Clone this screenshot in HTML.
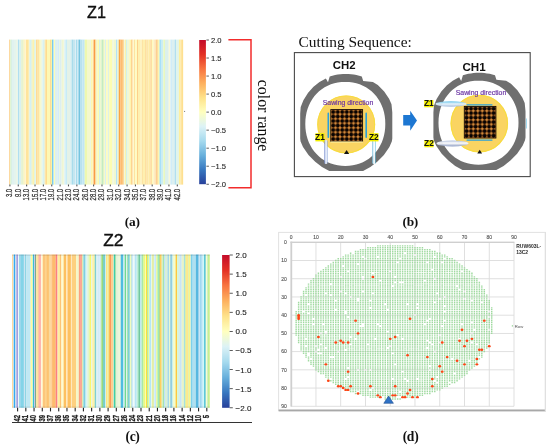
<!DOCTYPE html>
<html><head><meta charset="utf-8"><title>figure</title>
<style>html,body{margin:0;padding:0;background:#fff;}svg{display:block;filter:blur(0.3px);}</style>
</head><body>
<svg width="550" height="446" viewBox="0 0 550 446">
<rect width="550" height="446" fill="#fff"/>
<defs>
<linearGradient id="cb" x1="0" y1="0" x2="0" y2="1"><stop offset="0" stop-color="#c40c2a"/><stop offset="0.1" stop-color="#e33024"/><stop offset="0.2" stop-color="#f87440"/><stop offset="0.3" stop-color="#fdb05e"/><stop offset="0.4" stop-color="#fee28a"/><stop offset="0.5" stop-color="#ffffbf"/><stop offset="0.6" stop-color="#dcf2f6"/><stop offset="0.7" stop-color="#a6daee"/><stop offset="0.8" stop-color="#68b0dc"/><stop offset="0.9" stop-color="#3878c0"/><stop offset="1" stop-color="#27409a"/></linearGradient>
<linearGradient id="bladeV" x1="0" y1="0" x2="1" y2="0"><stop offset="0" stop-color="#6a80c8"/><stop offset="0.3" stop-color="#c8d4f0"/><stop offset="0.6" stop-color="#f4f8ff"/><stop offset="1" stop-color="#8aa4d8"/></linearGradient>
<linearGradient id="bladeV2" x1="0" y1="0" x2="1" y2="0"><stop offset="0" stop-color="#70b8d8"/><stop offset="0.4" stop-color="#e0f4fc"/><stop offset="0.7" stop-color="#f8fcff"/><stop offset="1" stop-color="#50b8d8"/></linearGradient>
<linearGradient id="bladeH" x1="0" y1="0" x2="0" y2="1"><stop offset="0" stop-color="#a8b8d8"/><stop offset="0.45" stop-color="#ffffff"/><stop offset="1" stop-color="#8898c0"/></linearGradient>
<linearGradient id="bladeH1" x1="0" y1="0" x2="0" y2="1"><stop offset="0" stop-color="#60c0e8"/><stop offset="0.5" stop-color="#e8f4fc"/><stop offset="1" stop-color="#a0b8d8"/></linearGradient>
<pattern id="die2" x="331" y="109.8" width="4.5" height="4.5" patternUnits="userSpaceOnUse"><rect width="4.5" height="4.5" fill="#a4521a"/><circle cx="2.25" cy="2.25" r="2.15" fill="none" stroke="#e89838" stroke-width="0.4"/><circle cx="2.25" cy="2.25" r="1.95" fill="#070302"/><circle cx="0" cy="0" r="0.75" fill="#f8c060"/><circle cx="4.5" cy="0" r="0.75" fill="#f8c060"/><circle cx="0" cy="4.5" r="0.75" fill="#f8c060"/><circle cx="4.5" cy="4.5" r="0.75" fill="#f8c060"/></pattern>
<pattern id="die1" x="464.3" y="106.4" width="4.5" height="4.5" patternUnits="userSpaceOnUse"><rect width="4.5" height="4.5" fill="#a4521a"/><circle cx="2.25" cy="2.25" r="2.15" fill="none" stroke="#e89838" stroke-width="0.4"/><circle cx="2.25" cy="2.25" r="1.95" fill="#070302"/><circle cx="0" cy="0" r="0.75" fill="#f8c060"/><circle cx="4.5" cy="0" r="0.75" fill="#f8c060"/><circle cx="0" cy="4.5" r="0.75" fill="#f8c060"/><circle cx="4.5" cy="4.5" r="0.75" fill="#f8c060"/></pattern>
</defs>
<text x="96.5" y="17.6" font-family='"Liberation Sans", sans-serif' font-size="16.2" text-anchor="middle" fill="#111" stroke="#111" stroke-width="0.35">Z1</text>
<rect x="9" y="39.6" width="1.05" height="145" fill="#fcd9a0"/>
<rect x="10" y="39.6" width="1.05" height="145" fill="#e2f5d4"/>
<rect x="11" y="39.6" width="1.05" height="145" fill="#d8f0e4"/>
<rect x="12" y="39.6" width="2.05" height="145" fill="#e0f2f0"/>
<rect x="14" y="39.6" width="2.25" height="145" fill="#e4f4ee"/>
<rect x="16.2" y="39.6" width="1.35" height="145" fill="#e8f6e0"/>
<rect x="17.5" y="39.6" width="0.55" height="145" fill="#ddeef0"/>
<rect x="18" y="39.6" width="0.95" height="145" fill="#a8dcf0"/>
<rect x="18.9" y="39.6" width="2.25" height="145" fill="#d8f0f0"/>
<rect x="21.1" y="39.6" width="2.45" height="145" fill="#e6f2d0"/>
<rect x="23.5" y="39.6" width="0.95" height="145" fill="#f8f4b0"/>
<rect x="24.4" y="39.6" width="1.15" height="145" fill="#fff0b8"/>
<rect x="25.5" y="39.6" width="0.55" height="145" fill="#fef4c8"/>
<rect x="26" y="39.6" width="2.75" height="145" fill="#ffe49c"/>
<rect x="28.7" y="39.6" width="0.85" height="145" fill="#f4f0b0"/>
<rect x="29.5" y="39.6" width="1.55" height="145" fill="#d4f0f4"/>
<rect x="31" y="39.6" width="1.35" height="145" fill="#e6f2dc"/>
<rect x="32.3" y="39.6" width="0.85" height="145" fill="#f6f0b0"/>
<rect x="33.1" y="39.6" width="0.85" height="145" fill="#fff39c"/>
<rect x="33.9" y="39.6" width="1.45" height="145" fill="#e4f4e0"/>
<rect x="35.3" y="39.6" width="0.85" height="145" fill="#dff4e4"/>
<rect x="36.1" y="39.6" width="1.55" height="145" fill="#fed98a"/>
<rect x="37.6" y="39.6" width="1.45" height="145" fill="#fee4a4"/>
<rect x="39" y="39.6" width="1.45" height="145" fill="#fef4b8"/>
<rect x="40.4" y="39.6" width="1.15" height="145" fill="#f0f8c8"/>
<rect x="41.5" y="39.6" width="1.05" height="145" fill="#e8f6e0"/>
<rect x="42.5" y="39.6" width="2.25" height="145" fill="#d8f2f0"/>
<rect x="44.7" y="39.6" width="1.15" height="145" fill="#fee5a0"/>
<rect x="45.8" y="39.6" width="1.25" height="145" fill="#fedd90"/>
<rect x="47" y="39.6" width="3.05" height="145" fill="#fef8b4"/>
<rect x="50" y="39.6" width="1.35" height="145" fill="#fddc98"/>
<rect x="51.3" y="39.6" width="0.75" height="145" fill="#f4f28c"/>
<rect x="52" y="39.6" width="1.55" height="145" fill="#7ccce8"/>
<rect x="53.5" y="39.6" width="0.55" height="145" fill="#c8eef4"/>
<rect x="54" y="39.6" width="1.05" height="145" fill="#fcfcb8"/>
<rect x="55" y="39.6" width="2.85" height="145" fill="#dcf0f0"/>
<rect x="57.8" y="39.6" width="1.25" height="145" fill="#d4ecf8"/>
<rect x="59" y="39.6" width="1.05" height="145" fill="#e8f6e4"/>
<rect x="60" y="39.6" width="1.65" height="145" fill="#dceff0"/>
<rect x="61.6" y="39.6" width="1.75" height="145" fill="#eef6d4"/>
<rect x="63.3" y="39.6" width="1.15" height="145" fill="#f2f6d0"/>
<rect x="64.4" y="39.6" width="1.65" height="145" fill="#d6f0f8"/>
<rect x="66" y="39.6" width="1.05" height="145" fill="#c8ecf6"/>
<rect x="67" y="39.6" width="3.05" height="145" fill="#e4f2e8"/>
<rect x="70" y="39.6" width="1.65" height="145" fill="#dcf0f2"/>
<rect x="71.6" y="39.6" width="1.45" height="145" fill="#a8dcec"/>
<rect x="73" y="39.6" width="2.05" height="145" fill="#c4e6f0"/>
<rect x="75" y="39.6" width="0.75" height="145" fill="#f0f4fc"/>
<rect x="75.7" y="39.6" width="1.75" height="145" fill="#a8dcec"/>
<rect x="77.4" y="39.6" width="1.15" height="145" fill="#c8e8f4"/>
<rect x="78.5" y="39.6" width="1.95" height="145" fill="#74c4e0"/>
<rect x="80.4" y="39.6" width="2.15" height="145" fill="#b8e2ee"/>
<rect x="82.5" y="39.6" width="2.25" height="145" fill="#c0e6f4"/>
<rect x="84.7" y="39.6" width="2.35" height="145" fill="#eef8b0"/>
<rect x="87" y="39.6" width="3.05" height="145" fill="#f4f8cc"/>
<rect x="90" y="39.6" width="0.75" height="145" fill="#dcf0f0"/>
<rect x="90.7" y="39.6" width="1.75" height="145" fill="#fef8b0"/>
<rect x="92.4" y="39.6" width="1.25" height="145" fill="#fef0b0"/>
<rect x="93.6" y="39.6" width="1.75" height="145" fill="#f89c48"/>
<rect x="95.3" y="39.6" width="0.75" height="145" fill="#fcd890"/>
<rect x="96" y="39.6" width="1.55" height="145" fill="#f0f4c8"/>
<rect x="97.5" y="39.6" width="1.55" height="145" fill="#fcfcb0"/>
<rect x="99" y="39.6" width="1.05" height="145" fill="#d8f0e8"/>
<rect x="100" y="39.6" width="1.55" height="145" fill="#eef8d0"/>
<rect x="101.5" y="39.6" width="2.25" height="145" fill="#c4ecc0"/>
<rect x="103.7" y="39.6" width="1.15" height="145" fill="#fefcb8"/>
<rect x="104.8" y="39.6" width="1.25" height="145" fill="#d8f0f0"/>
<rect x="106" y="39.6" width="1.85" height="145" fill="#fefcc0"/>
<rect x="107.8" y="39.6" width="1.45" height="145" fill="#e0f2e4"/>
<rect x="109.2" y="39.6" width="2.85" height="145" fill="#fcfcb0"/>
<rect x="112" y="39.6" width="1.55" height="145" fill="#f0f8dc"/>
<rect x="113.5" y="39.6" width="2.55" height="145" fill="#f0f8d0"/>
<rect x="116" y="39.6" width="1.05" height="145" fill="#b4e0f6"/>
<rect x="117" y="39.6" width="1.75" height="145" fill="#e4f6dc"/>
<rect x="118.7" y="39.6" width="1.75" height="145" fill="#faa440"/>
<rect x="120.4" y="39.6" width="1.65" height="145" fill="#fdbc70"/>
<rect x="122" y="39.6" width="1.85" height="145" fill="#fdc880"/>
<rect x="123.8" y="39.6" width="1.25" height="145" fill="#f4f8d8"/>
<rect x="125" y="39.6" width="1.05" height="145" fill="#f8f4b0"/>
<rect x="126" y="39.6" width="1.05" height="145" fill="#d4f0e8"/>
<rect x="127" y="39.6" width="2.35" height="145" fill="#eef8d8"/>
<rect x="129.3" y="39.6" width="1.75" height="145" fill="#fef4b0"/>
<rect x="131" y="39.6" width="1.55" height="145" fill="#fdd490"/>
<rect x="132.5" y="39.6" width="0.55" height="145" fill="#fde8b0"/>
<rect x="133" y="39.6" width="1.05" height="145" fill="#fef8d0"/>
<rect x="134" y="39.6" width="1.35" height="145" fill="#fde4a0"/>
<rect x="135.3" y="39.6" width="1.75" height="145" fill="#fefcc0"/>
<rect x="137" y="39.6" width="1.05" height="145" fill="#fdd08c"/>
<rect x="138" y="39.6" width="2.75" height="145" fill="#fef0b0"/>
<rect x="140.7" y="39.6" width="1.15" height="145" fill="#fdf4c0"/>
<rect x="141.8" y="39.6" width="1.25" height="145" fill="#fde4a4"/>
<rect x="143" y="39.6" width="2.05" height="145" fill="#fef0b0"/>
<rect x="145" y="39.6" width="1.75" height="145" fill="#fde0a0"/>
<rect x="146.7" y="39.6" width="1.75" height="145" fill="#fde8a8"/>
<rect x="148.4" y="39.6" width="2.15" height="145" fill="#feeca8"/>
<rect x="150.5" y="39.6" width="1.35" height="145" fill="#fdd08c"/>
<rect x="151.8" y="39.6" width="1.75" height="145" fill="#fefcc0"/>
<rect x="153.5" y="39.6" width="2.15" height="145" fill="#feecc0"/>
<rect x="155.6" y="39.6" width="2.25" height="145" fill="#fdd090"/>
<rect x="157.8" y="39.6" width="1.25" height="145" fill="#fef4b0"/>
<rect x="159" y="39.6" width="0.75" height="145" fill="#d8f0c0"/>
<rect x="159.7" y="39.6" width="1.95" height="145" fill="#a8e0f8"/>
<rect x="161.6" y="39.6" width="1.75" height="145" fill="#cceef0"/>
<rect x="163.3" y="39.6" width="1.75" height="145" fill="#e8f8c0"/>
<rect x="165" y="39.6" width="3.75" height="145" fill="#dcf0ec"/>
<rect x="168.7" y="39.6" width="1.75" height="145" fill="#f8f8d8"/>
<rect x="170.4" y="39.6" width="1.65" height="145" fill="#d0ecf8"/>
<rect x="172" y="39.6" width="2.75" height="145" fill="#dcf0f0"/>
<rect x="174.7" y="39.6" width="1.25" height="145" fill="#a8dcf0"/>
<rect x="175.9" y="39.6" width="3.05" height="145" fill="#e0f4ec"/>
<rect x="178.9" y="39.6" width="1.65" height="145" fill="#fef0a0"/>
<rect x="180.5" y="39.6" width="1.55" height="145" fill="#fee4a0"/>
<rect x="182" y="39.6" width="1.15" height="145" fill="#fee090"/>
<rect x="9.35" y="184.5" width="1.1" height="1.9" fill="#555"/>
<text transform="translate(12.4,188.9) rotate(-90) scale(1,1.62)" font-family='"Liberation Sans", sans-serif' font-size="5.9" text-anchor="end" fill="#333" stroke="#333" stroke-width="0.18">3.0</text>
<rect x="17.72" y="184.5" width="1.1" height="1.9" fill="#555"/>
<text transform="translate(20.77,188.9) rotate(-90) scale(1,1.62)" font-family='"Liberation Sans", sans-serif' font-size="5.9" text-anchor="end" fill="#333" stroke="#333" stroke-width="0.18">9.0</text>
<rect x="26.09" y="184.5" width="1.1" height="1.9" fill="#555"/>
<text transform="translate(29.14,188.9) rotate(-90) scale(1,1.62)" font-family='"Liberation Sans", sans-serif' font-size="5.9" text-anchor="end" fill="#333" stroke="#333" stroke-width="0.18">13.0</text>
<rect x="34.46" y="184.5" width="1.1" height="1.9" fill="#555"/>
<text transform="translate(37.51,188.9) rotate(-90) scale(1,1.62)" font-family='"Liberation Sans", sans-serif' font-size="5.9" text-anchor="end" fill="#333" stroke="#333" stroke-width="0.18">15.0</text>
<rect x="42.83" y="184.5" width="1.1" height="1.9" fill="#555"/>
<text transform="translate(45.88,188.9) rotate(-90) scale(1,1.62)" font-family='"Liberation Sans", sans-serif' font-size="5.9" text-anchor="end" fill="#333" stroke="#333" stroke-width="0.18">17.0</text>
<rect x="51.2" y="184.5" width="1.1" height="1.9" fill="#555"/>
<text transform="translate(54.25,188.9) rotate(-90) scale(1,1.62)" font-family='"Liberation Sans", sans-serif' font-size="5.9" text-anchor="end" fill="#333" stroke="#333" stroke-width="0.18">19.0</text>
<rect x="59.57" y="184.5" width="1.1" height="1.9" fill="#555"/>
<text transform="translate(62.62,188.9) rotate(-90) scale(1,1.62)" font-family='"Liberation Sans", sans-serif' font-size="5.9" text-anchor="end" fill="#333" stroke="#333" stroke-width="0.18">21.0</text>
<rect x="67.94" y="184.5" width="1.1" height="1.9" fill="#555"/>
<text transform="translate(70.99,188.9) rotate(-90) scale(1,1.62)" font-family='"Liberation Sans", sans-serif' font-size="5.9" text-anchor="end" fill="#333" stroke="#333" stroke-width="0.18">23.0</text>
<rect x="76.31" y="184.5" width="1.1" height="1.9" fill="#555"/>
<text transform="translate(79.36,188.9) rotate(-90) scale(1,1.62)" font-family='"Liberation Sans", sans-serif' font-size="5.9" text-anchor="end" fill="#333" stroke="#333" stroke-width="0.18">24.0</text>
<rect x="84.68" y="184.5" width="1.1" height="1.9" fill="#555"/>
<text transform="translate(87.73,188.9) rotate(-90) scale(1,1.62)" font-family='"Liberation Sans", sans-serif' font-size="5.9" text-anchor="end" fill="#333" stroke="#333" stroke-width="0.18">26.0</text>
<rect x="93.05" y="184.5" width="1.1" height="1.9" fill="#555"/>
<text transform="translate(96.1,188.9) rotate(-90) scale(1,1.62)" font-family='"Liberation Sans", sans-serif' font-size="5.9" text-anchor="end" fill="#333" stroke="#333" stroke-width="0.18">28.0</text>
<rect x="101.42" y="184.5" width="1.1" height="1.9" fill="#555"/>
<text transform="translate(104.47,188.9) rotate(-90) scale(1,1.62)" font-family='"Liberation Sans", sans-serif' font-size="5.9" text-anchor="end" fill="#333" stroke="#333" stroke-width="0.18">29.0</text>
<rect x="109.79" y="184.5" width="1.1" height="1.9" fill="#555"/>
<text transform="translate(112.84,188.9) rotate(-90) scale(1,1.62)" font-family='"Liberation Sans", sans-serif' font-size="5.9" text-anchor="end" fill="#333" stroke="#333" stroke-width="0.18">31.0</text>
<rect x="118.16" y="184.5" width="1.1" height="1.9" fill="#555"/>
<text transform="translate(121.21,188.9) rotate(-90) scale(1,1.62)" font-family='"Liberation Sans", sans-serif' font-size="5.9" text-anchor="end" fill="#333" stroke="#333" stroke-width="0.18">32.0</text>
<rect x="126.53" y="184.5" width="1.1" height="1.9" fill="#555"/>
<text transform="translate(129.58,188.9) rotate(-90) scale(1,1.62)" font-family='"Liberation Sans", sans-serif' font-size="5.9" text-anchor="end" fill="#333" stroke="#333" stroke-width="0.18">34.0</text>
<rect x="134.9" y="184.5" width="1.1" height="1.9" fill="#555"/>
<text transform="translate(137.95,188.9) rotate(-90) scale(1,1.62)" font-family='"Liberation Sans", sans-serif' font-size="5.9" text-anchor="end" fill="#333" stroke="#333" stroke-width="0.18">35.0</text>
<rect x="143.27" y="184.5" width="1.1" height="1.9" fill="#555"/>
<text transform="translate(146.32,188.9) rotate(-90) scale(1,1.62)" font-family='"Liberation Sans", sans-serif' font-size="5.9" text-anchor="end" fill="#333" stroke="#333" stroke-width="0.18">37.0</text>
<rect x="151.64" y="184.5" width="1.1" height="1.9" fill="#555"/>
<text transform="translate(154.69,188.9) rotate(-90) scale(1,1.62)" font-family='"Liberation Sans", sans-serif' font-size="5.9" text-anchor="end" fill="#333" stroke="#333" stroke-width="0.18">38.0</text>
<rect x="160.01" y="184.5" width="1.1" height="1.9" fill="#555"/>
<text transform="translate(163.06,188.9) rotate(-90) scale(1,1.62)" font-family='"Liberation Sans", sans-serif' font-size="5.9" text-anchor="end" fill="#333" stroke="#333" stroke-width="0.18">39.0</text>
<rect x="168.38" y="184.5" width="1.1" height="1.9" fill="#555"/>
<text transform="translate(171.43,188.9) rotate(-90) scale(1,1.62)" font-family='"Liberation Sans", sans-serif' font-size="5.9" text-anchor="end" fill="#333" stroke="#333" stroke-width="0.18">41.0</text>
<rect x="176.75" y="184.5" width="1.1" height="1.9" fill="#555"/>
<text transform="translate(179.8,188.9) rotate(-90) scale(1,1.62)" font-family='"Liberation Sans", sans-serif' font-size="5.9" text-anchor="end" fill="#333" stroke="#333" stroke-width="0.18">42.0</text>
<rect x="199.2" y="40" width="6.7" height="144.2" fill="url(#cb)"/>
<rect x="206.4" y="39.6" width="2.5" height="0.8" fill="#333"/>
<text x="211" y="42.75" font-family='"Liberation Sans", sans-serif' font-size="7.6" fill="#222" stroke="#222" stroke-width="0.1">2.0</text>
<rect x="206.4" y="57.62" width="2.5" height="0.8" fill="#333"/>
<text x="211" y="60.77" font-family='"Liberation Sans", sans-serif' font-size="7.6" fill="#222" stroke="#222" stroke-width="0.1">1.5</text>
<rect x="206.4" y="75.65" width="2.5" height="0.8" fill="#333"/>
<text x="211" y="78.8" font-family='"Liberation Sans", sans-serif' font-size="7.6" fill="#222" stroke="#222" stroke-width="0.1">1.0</text>
<rect x="206.4" y="93.67" width="2.5" height="0.8" fill="#333"/>
<text x="211" y="96.82" font-family='"Liberation Sans", sans-serif' font-size="7.6" fill="#222" stroke="#222" stroke-width="0.1">0.5</text>
<rect x="206.4" y="111.7" width="2.5" height="0.8" fill="#333"/>
<text x="211" y="114.85" font-family='"Liberation Sans", sans-serif' font-size="7.6" fill="#222" stroke="#222" stroke-width="0.1">0.0</text>
<rect x="206.4" y="129.72" width="2.5" height="0.8" fill="#333"/>
<text x="211" y="132.88" font-family='"Liberation Sans", sans-serif' font-size="7.6" fill="#222" stroke="#222" stroke-width="0.1">−0.5</text>
<rect x="206.4" y="147.75" width="2.5" height="0.8" fill="#333"/>
<text x="211" y="150.9" font-family='"Liberation Sans", sans-serif' font-size="7.6" fill="#222" stroke="#222" stroke-width="0.1">−1.0</text>
<rect x="206.4" y="165.77" width="2.5" height="0.8" fill="#333"/>
<text x="211" y="168.92" font-family='"Liberation Sans", sans-serif' font-size="7.6" fill="#222" stroke="#222" stroke-width="0.1">−1.5</text>
<rect x="206.4" y="183.8" width="2.5" height="0.8" fill="#333"/>
<text x="211" y="186.95" font-family='"Liberation Sans", sans-serif' font-size="7.6" fill="#222" stroke="#222" stroke-width="0.1">−2.0</text>
<rect x="184" y="110.9" width="1.1" height="1.1" fill="#8a8a8a"/>
<path d="M228.4,39.8 H251.0 V187.7 H228.4" fill="none" stroke="#f22c2c" stroke-width="1.5"/>
<text transform="translate(258.3,115.6) rotate(90)" font-family='"Liberation Serif", serif' font-size="15.8" text-anchor="middle" fill="#111">color range</text>
<text x="132.2" y="226" font-family='"Liberation Serif", serif' font-size="13.4" font-weight="bold" letter-spacing="-0.3" text-anchor="middle" fill="#111">(a)</text>
<text x="298.5" y="47.2" font-family='"Liberation Serif", serif' font-size="15.4" fill="#111">Cutting Sequence:</text>
<rect x="294.4" y="52.6" width="235.8" height="124" fill="none" stroke="#4a4a4a" stroke-width="1.1"/>
<text x="344.2" y="68.7" font-family='"Liberation Sans", sans-serif' font-size="11.4" font-weight="bold" text-anchor="middle" fill="#111">CH2</text>
<text x="474.1" y="70.6" font-family='"Liberation Sans", sans-serif' font-size="11.6" font-weight="bold" text-anchor="middle" fill="#111">CH1</text>
<g transform="translate(0,0)"><path d="M325.9,78.4 L328,82.2 L329.7,76.4 L332.38,75.67 L335.05,75.07 L337.73,74.6 L340.4,74.27 L343.07,74.07 L345.75,74 L348.43,74.07 L351.1,74.27 L353.77,74.6 L356.45,75.07 L359.12,75.67 L361.8,76.4 L363.2,80.9 L372.9,82 L377.8,84.9 L384.2,91.4 L389.1,98.7 L391.5,104.3 L392.3,112.4 L392.3,138.6 L391.8,141.5 L389.4,147 L383.9,155 L377.2,161.7 L370.4,167.1 L363.1,171.1 L329.3,171.1 L322,167.1 L315.2,161.7 L308.5,155 L303,147 L300.6,141.5 L300.2,138.6 L300.2,113.6 L300.7,106.9 L303.4,100.2 L308.1,92.8 L313.5,86.7 L319.5,82 Z M385.3,123.9 L385.16,128.01 L384.72,131.83 L384,135.49 L383,139.02 L381.72,142.39 L380.18,145.6 L378.38,148.64 L376.33,151.47 L374.05,154.09 L371.56,156.48 L368.86,158.63 L365.97,160.52 L362.91,162.14 L359.7,163.48 L356.34,164.54 L352.85,165.29 L349.22,165.75 L345.3,165.9 L341.38,165.75 L337.75,165.29 L334.26,164.54 L330.9,163.48 L327.69,162.14 L324.63,160.52 L321.74,158.63 L319.04,156.48 L316.55,154.09 L314.27,151.47 L312.22,148.64 L310.42,145.6 L308.88,142.39 L307.6,139.02 L306.6,135.49 L305.88,131.83 L305.44,128.01 L305.3,123.9 L305.44,119.79 L305.88,115.97 L306.6,112.31 L307.6,108.78 L308.88,105.41 L310.42,102.2 L312.22,99.16 L314.27,96.33 L316.55,93.71 L319.04,91.32 L321.74,89.17 L324.63,87.28 L327.69,85.66 L330.9,84.32 L334.26,83.26 L337.75,82.51 L341.38,82.05 L345.3,81.9 L349.22,82.05 L352.85,82.51 L356.34,83.26 L359.7,84.32 L362.91,85.66 L365.97,87.28 L368.86,89.17 L371.56,91.32 L374.05,93.71 L376.33,96.33 L378.38,99.16 L380.18,102.2 L381.72,105.41 L383,108.78 L384,112.31 L384.72,115.97 L385.16,119.79 Z" fill="#6f6f6f" fill-rule="evenodd"/></g>
<circle cx="346.2" cy="124.4" r="28.9" fill="#fad462"/>
<circle cx="346.2" cy="124.4" r="28.4" fill="none" stroke="#f8dc40" stroke-width="1.2"/>
<text x="348" y="105" font-family='"Liberation Sans", sans-serif' font-size="6.9" text-anchor="middle" fill="#6a34a4" stroke="#6a34a4" stroke-width="0.18">Sawing direction</text>
<rect x="330.8" y="109.6" width="31.8" height="31.8" fill="url(#die2)" stroke="#140804" stroke-width="0.9"/>
<rect x="330.6" y="141.4" width="32.2" height="1.2" fill="#fff0a0"/>
<path d="M328.3,137.3 V116 L328.3,113.4 L328.3,116 Z" fill="#2aa0dc" stroke="#2aa0dc" stroke-width="1.6" stroke-linejoin="round"/>
<path d="M366.2,137.3 V116 L366.2,113.4 L366.2,116 Z" fill="#2aa0dc" stroke="#2aa0dc" stroke-width="1.6" stroke-linejoin="round"/>
<rect x="324.3" y="140" width="3.3" height="24" rx="1.5" fill="url(#bladeV)" opacity="0.95"/>
<rect x="372.2" y="140" width="3.4" height="24" rx="1.5" fill="url(#bladeV2)" opacity="0.95"/>
<path d="M344,154.1 L346.6,150.1 L349.2,154.1 Z" fill="#111"/>
<rect x="315.4" y="133.2" width="9.2" height="8.2" fill="#f4f000"/><text x="320" y="140.2" font-family='"Liberation Sans", sans-serif' font-size="8.4" font-weight="bold" text-anchor="middle" fill="#111">Z1</text>
<rect x="369.2" y="133.2" width="9.3" height="8.2" fill="#f4f000"/><text x="373.85" y="140.2" font-family='"Liberation Sans", sans-serif' font-size="8.4" font-weight="bold" text-anchor="middle" fill="#111">Z2</text>
<path d="M403.2,115 H410.2 V110.7 L417,120.6 L410.2,130.7 V125.5 H403.2 Z" fill="#1d77d2"/>
<g transform="translate(133.2,-1.2)"><path d="M325.9,78.4 L328,82.2 L329.7,76.4 L332.38,75.67 L335.05,75.07 L337.73,74.6 L340.4,74.27 L343.07,74.07 L345.75,74 L348.43,74.07 L351.1,74.27 L353.77,74.6 L356.45,75.07 L359.12,75.67 L361.8,76.4 L363.2,80.9 L372.9,82 L377.8,84.9 L384.2,91.4 L389.1,98.7 L391.5,104.3 L392.3,112.4 L392.3,138.6 L391.8,141.5 L389.4,147 L383.9,155 L377.2,161.7 L370.4,167.1 L363.1,171.1 L329.3,171.1 L322,167.1 L315.2,161.7 L308.5,155 L303,147 L300.6,141.5 L300.2,138.6 L300.2,113.6 L300.7,106.9 L303.4,100.2 L308.1,92.8 L313.5,86.7 L319.5,82 Z M385.3,123.9 L385.16,128.01 L384.72,131.83 L384,135.49 L383,139.02 L381.72,142.39 L380.18,145.6 L378.38,148.64 L376.33,151.47 L374.05,154.09 L371.56,156.48 L368.86,158.63 L365.97,160.52 L362.91,162.14 L359.7,163.48 L356.34,164.54 L352.85,165.29 L349.22,165.75 L345.3,165.9 L341.38,165.75 L337.75,165.29 L334.26,164.54 L330.9,163.48 L327.69,162.14 L324.63,160.52 L321.74,158.63 L319.04,156.48 L316.55,154.09 L314.27,151.47 L312.22,148.64 L310.42,145.6 L308.88,142.39 L307.6,139.02 L306.6,135.49 L305.88,131.83 L305.44,128.01 L305.3,123.9 L305.44,119.79 L305.88,115.97 L306.6,112.31 L307.6,108.78 L308.88,105.41 L310.42,102.2 L312.22,99.16 L314.27,96.33 L316.55,93.71 L319.04,91.32 L321.74,89.17 L324.63,87.28 L327.69,85.66 L330.9,84.32 L334.26,83.26 L337.75,82.51 L341.38,82.05 L345.3,81.9 L349.22,82.05 L352.85,82.51 L356.34,83.26 L359.7,84.32 L362.91,85.66 L365.97,87.28 L368.86,89.17 L371.56,91.32 L374.05,93.71 L376.33,96.33 L378.38,99.16 L380.18,102.2 L381.72,105.41 L383,108.78 L384,112.31 L384.72,115.97 L385.16,119.79 Z" fill="#6f6f6f" fill-rule="evenodd"/></g>
<circle cx="479.3" cy="123.6" r="28.7" fill="#fad462"/>
<circle cx="479.3" cy="123.6" r="28.2" fill="none" stroke="#f8dc40" stroke-width="1.2"/>
<text x="481" y="95.2" font-family='"Liberation Sans", sans-serif' font-size="6.9" text-anchor="middle" fill="#6a34a4" stroke="#6a34a4" stroke-width="0.18">Sawing direction</text>
<rect x="464.3" y="106.4" width="31.6" height="31.6" fill="url(#die1)" stroke="#140804" stroke-width="0.9"/>
<path d="M467,104.8 H489 L492,104.8 L489,104.8 Z" fill="#2aa0dc" stroke="#2aa0dc" stroke-width="1.2" stroke-linejoin="round"/>
<path d="M467,140.1 H489 L492,140.1 L489,140.1 Z" fill="#2aa0dc" stroke="#2aa0dc" stroke-width="1.2" stroke-linejoin="round"/>
<ellipse cx="451" cy="104" rx="15.5" ry="2.7" fill="url(#bladeH1)" opacity="0.95"/>
<ellipse cx="452.5" cy="143.4" rx="16" ry="3" fill="url(#bladeH)" opacity="0.95"/>
<path d="M477.3,153.4 L479.7,149.8 L482.1,153.4 Z" fill="#111"/>
<rect x="424.2" y="100" width="9.2" height="7.3" fill="#f4f000"/><text x="428.8" y="106.1" font-family='"Liberation Sans", sans-serif' font-size="8.4" font-weight="bold" text-anchor="middle" fill="#111">Z1</text>
<rect x="424.4" y="140" width="9.2" height="7.3" fill="#f4f000"/><text x="429" y="146.1" font-family='"Liberation Sans", sans-serif' font-size="8.4" font-weight="bold" text-anchor="middle" fill="#111">Z2</text>
<rect x="526" y="118.5" width="0.9" height="10" fill="#9ad8f0"/>
<text x="410.3" y="225.6" font-family='"Liberation Serif", serif' font-size="13.4" font-weight="bold" letter-spacing="-0.3" text-anchor="middle" fill="#111">(b)</text>
<text x="113.4" y="245.5" font-family='"Liberation Sans", sans-serif' font-size="17.4" text-anchor="middle" fill="#111" stroke="#111" stroke-width="0.35">Z2</text>
<rect x="12.2" y="254.5" width="1.15" height="153.3" fill="#fdd08c"/>
<rect x="13.3" y="254.5" width="0.55" height="153.3" fill="#e0f0f0"/>
<rect x="13.8" y="254.5" width="1.15" height="153.3" fill="#20a0f0"/>
<rect x="14.9" y="254.5" width="0.85" height="153.3" fill="#a8e0f0"/>
<rect x="15.7" y="254.5" width="0.85" height="153.3" fill="#d8d0f0"/>
<rect x="16.5" y="254.5" width="1.45" height="153.3" fill="#9890d8"/>
<rect x="17.9" y="254.5" width="1.15" height="153.3" fill="#f0f8fc"/>
<rect x="19" y="254.5" width="1.95" height="153.3" fill="#9cd8ec"/>
<rect x="20.9" y="254.5" width="3.05" height="153.3" fill="#84d4e8"/>
<rect x="23.9" y="254.5" width="0.85" height="153.3" fill="#e0e8f4"/>
<rect x="24.7" y="254.5" width="1.75" height="153.3" fill="#90d4e4"/>
<rect x="26.4" y="254.5" width="4.35" height="153.3" fill="#c0e8f4"/>
<rect x="30.7" y="254.5" width="1.45" height="153.3" fill="#fcfc98"/>
<rect x="32.1" y="254.5" width="0.95" height="153.3" fill="#d0f0d0"/>
<rect x="33" y="254.5" width="1.05" height="153.3" fill="#38c0d0"/>
<rect x="34" y="254.5" width="1.15" height="153.3" fill="#c0c8f0"/>
<rect x="35.1" y="254.5" width="1.15" height="153.3" fill="#70a080"/>
<rect x="36.2" y="254.5" width="1.95" height="153.3" fill="#fee4a0"/>
<rect x="38.1" y="254.5" width="0.85" height="153.3" fill="#fdc090"/>
<rect x="38.9" y="254.5" width="0.55" height="153.3" fill="#fcc0b0"/>
<rect x="39.4" y="254.5" width="1.35" height="153.3" fill="#fc9090"/>
<rect x="40.7" y="254.5" width="0.65" height="153.3" fill="#fdd0c0"/>
<rect x="41.3" y="254.5" width="1.15" height="153.3" fill="#fffcd8"/>
<rect x="42.4" y="254.5" width="0.85" height="153.3" fill="#fde4a0"/>
<rect x="43.2" y="254.5" width="1.65" height="153.3" fill="#fdb860"/>
<rect x="44.8" y="254.5" width="1.45" height="153.3" fill="#fdd48c"/>
<rect x="46.2" y="254.5" width="2.75" height="153.3" fill="#fdc470"/>
<rect x="48.9" y="254.5" width="0.85" height="153.3" fill="#f4d080"/>
<rect x="49.7" y="254.5" width="1.75" height="153.3" fill="#fdd8a0"/>
<rect x="51.4" y="254.5" width="1.65" height="153.3" fill="#fdbe78"/>
<rect x="53" y="254.5" width="2.75" height="153.3" fill="#fdbc6c"/>
<rect x="55.7" y="254.5" width="1.45" height="153.3" fill="#fc8080"/>
<rect x="57.1" y="254.5" width="0.85" height="153.3" fill="#fdc8b0"/>
<rect x="57.9" y="254.5" width="1.95" height="153.3" fill="#fef0a0"/>
<rect x="59.8" y="254.5" width="1.65" height="153.3" fill="#fdc474"/>
<rect x="61.4" y="254.5" width="2.25" height="153.3" fill="#fefcd0"/>
<rect x="63.6" y="254.5" width="2.45" height="153.3" fill="#fdc060"/>
<rect x="66" y="254.5" width="1.55" height="153.3" fill="#fee8c0"/>
<rect x="67.5" y="254.5" width="3.45" height="153.3" fill="#fdc060"/>
<rect x="70.9" y="254.5" width="1.15" height="153.3" fill="#fee8c0"/>
<rect x="72" y="254.5" width="4.25" height="153.3" fill="#fdd080"/>
<rect x="76.2" y="254.5" width="2.65" height="153.3" fill="#f4f8c8"/>
<rect x="78.8" y="254.5" width="1.95" height="153.3" fill="#fca080"/>
<rect x="80.7" y="254.5" width="1.15" height="153.3" fill="#fc8888"/>
<rect x="81.8" y="254.5" width="0.85" height="153.3" fill="#fcec70"/>
<rect x="82.6" y="254.5" width="0.95" height="153.3" fill="#a8e0d0"/>
<rect x="83.5" y="254.5" width="2.15" height="153.3" fill="#80d0e0"/>
<rect x="85.6" y="254.5" width="1.75" height="153.3" fill="#d8f4f8"/>
<rect x="87.3" y="254.5" width="1.65" height="153.3" fill="#e0f4d0"/>
<rect x="88.9" y="254.5" width="1.15" height="153.3" fill="#e8f8a8"/>
<rect x="90" y="254.5" width="1.15" height="153.3" fill="#f8f870"/>
<rect x="91.1" y="254.5" width="1.15" height="153.3" fill="#e8f8e0"/>
<rect x="92.2" y="254.5" width="2.25" height="153.3" fill="#fef0a8"/>
<rect x="94.4" y="254.5" width="0.45" height="153.3" fill="#e0f488"/>
<rect x="94.8" y="254.5" width="1.15" height="153.3" fill="#70c8d0"/>
<rect x="95.9" y="254.5" width="1.45" height="153.3" fill="#d8f0f0"/>
<rect x="97.3" y="254.5" width="2.25" height="153.3" fill="#d4ecf8"/>
<rect x="99.5" y="254.5" width="1.35" height="153.3" fill="#d0e8f8"/>
<rect x="100.8" y="254.5" width="1.15" height="153.3" fill="#b8e8a0"/>
<rect x="101.9" y="254.5" width="1.15" height="153.3" fill="#98d880"/>
<rect x="103" y="254.5" width="2.25" height="153.3" fill="#78d0c8"/>
<rect x="105.2" y="254.5" width="0.85" height="153.3" fill="#c8ecf8"/>
<rect x="106" y="254.5" width="1.65" height="153.3" fill="#fce880"/>
<rect x="107.6" y="254.5" width="1.15" height="153.3" fill="#e8f0a0"/>
<rect x="108.7" y="254.5" width="1.15" height="153.3" fill="#fcc040"/>
<rect x="109.8" y="254.5" width="1.15" height="153.3" fill="#fc9050"/>
<rect x="110.9" y="254.5" width="2.25" height="153.3" fill="#fdd090"/>
<rect x="113.1" y="254.5" width="0.85" height="153.3" fill="#d0e8c8"/>
<rect x="113.9" y="254.5" width="1.15" height="153.3" fill="#40d0a8"/>
<rect x="115" y="254.5" width="1.45" height="153.3" fill="#a8e0b0"/>
<rect x="116.4" y="254.5" width="2.45" height="153.3" fill="#e8f4d8"/>
<rect x="118.8" y="254.5" width="1.95" height="153.3" fill="#eef8d8"/>
<rect x="120.7" y="254.5" width="2.75" height="153.3" fill="#50bce0"/>
<rect x="123.4" y="254.5" width="1.35" height="153.3" fill="#d0f0f0"/>
<rect x="124.7" y="254.5" width="1.45" height="153.3" fill="#70d890"/>
<rect x="126.1" y="254.5" width="1.15" height="153.3" fill="#e0f0f0"/>
<rect x="127.2" y="254.5" width="1.35" height="153.3" fill="#90e0a0"/>
<rect x="128.5" y="254.5" width="1.15" height="153.3" fill="#40b0e0"/>
<rect x="129.6" y="254.5" width="0.95" height="153.3" fill="#d8f8c0"/>
<rect x="130.5" y="254.5" width="1.05" height="153.3" fill="#f8fca0"/>
<rect x="131.5" y="254.5" width="1.15" height="153.3" fill="#90d0f0"/>
<rect x="132.6" y="254.5" width="1.15" height="153.3" fill="#f0fcfc"/>
<rect x="133.7" y="254.5" width="1.75" height="153.3" fill="#e0f4f8"/>
<rect x="135.4" y="254.5" width="1.15" height="153.3" fill="#90d8f0"/>
<rect x="136.5" y="254.5" width="0.85" height="153.3" fill="#d0f0f0"/>
<rect x="137.3" y="254.5" width="1.15" height="153.3" fill="#a8e8c8"/>
<rect x="138.4" y="254.5" width="1.65" height="153.3" fill="#70c8a0"/>
<rect x="140" y="254.5" width="1.65" height="153.3" fill="#c0e8f0"/>
<rect x="141.6" y="254.5" width="1.95" height="153.3" fill="#a8e8a8"/>
<rect x="143.5" y="254.5" width="1.45" height="153.3" fill="#e8fc70"/>
<rect x="144.9" y="254.5" width="1.15" height="153.3" fill="#fcfcb0"/>
<rect x="146" y="254.5" width="1.15" height="153.3" fill="#fce040"/>
<rect x="147.1" y="254.5" width="1.15" height="153.3" fill="#b0e8a0"/>
<rect x="148.2" y="254.5" width="1.15" height="153.3" fill="#e8fc80"/>
<rect x="149.3" y="254.5" width="1.35" height="153.3" fill="#b0e8f8"/>
<rect x="150.6" y="254.5" width="0.55" height="153.3" fill="#90d8f8"/>
<rect x="151.1" y="254.5" width="1.15" height="153.3" fill="#e8f8e0"/>
<rect x="152.2" y="254.5" width="1.65" height="153.3" fill="#e0ec90"/>
<rect x="153.8" y="254.5" width="1.15" height="153.3" fill="#d8f0f8"/>
<rect x="154.9" y="254.5" width="1.65" height="153.3" fill="#c8e8f8"/>
<rect x="156.5" y="254.5" width="1.15" height="153.3" fill="#f8fc60"/>
<rect x="157.6" y="254.5" width="1.15" height="153.3" fill="#80e8c0"/>
<rect x="158.7" y="254.5" width="1.15" height="153.3" fill="#a0d880"/>
<rect x="159.8" y="254.5" width="1.95" height="153.3" fill="#fdd060"/>
<rect x="161.7" y="254.5" width="1.15" height="153.3" fill="#d8f4c8"/>
<rect x="162.8" y="254.5" width="1.15" height="153.3" fill="#a0e0a0"/>
<rect x="163.9" y="254.5" width="1.15" height="153.3" fill="#c0e4f8"/>
<rect x="165" y="254.5" width="2.75" height="153.3" fill="#d8f0d8"/>
<rect x="167.7" y="254.5" width="1.15" height="153.3" fill="#80c8f0"/>
<rect x="168.8" y="254.5" width="1.15" height="153.3" fill="#f0fcd0"/>
<rect x="169.9" y="254.5" width="0.85" height="153.3" fill="#a8d8e0"/>
<rect x="170.7" y="254.5" width="1.15" height="153.3" fill="#70c0d8"/>
<rect x="171.8" y="254.5" width="1.15" height="153.3" fill="#c8ecf0"/>
<rect x="172.9" y="254.5" width="1.45" height="153.3" fill="#f0fcd0"/>
<rect x="174.3" y="254.5" width="1.35" height="153.3" fill="#f0fcc0"/>
<rect x="175.6" y="254.5" width="1.45" height="153.3" fill="#fdc840"/>
<rect x="177" y="254.5" width="1.45" height="153.3" fill="#d8f8d8"/>
<rect x="178.4" y="254.5" width="1.15" height="153.3" fill="#c8ecd8"/>
<rect x="179.5" y="254.5" width="2.25" height="153.3" fill="#c8e4f8"/>
<rect x="181.7" y="254.5" width="2.25" height="153.3" fill="#e8f4c8"/>
<rect x="183.9" y="254.5" width="1.25" height="153.3" fill="#a8e0e0"/>
<rect x="185.1" y="254.5" width="0.95" height="153.3" fill="#d8f0a0"/>
<rect x="186" y="254.5" width="2.25" height="153.3" fill="#fce890"/>
<rect x="188.2" y="254.5" width="0.95" height="153.3" fill="#e0f0a0"/>
<rect x="189.1" y="254.5" width="1.35" height="153.3" fill="#f8f480"/>
<rect x="190.4" y="254.5" width="0.95" height="153.3" fill="#c0e8e0"/>
<rect x="191.3" y="254.5" width="1.25" height="153.3" fill="#50c0e8"/>
<rect x="192.5" y="254.5" width="3.45" height="153.3" fill="#b0e0f0"/>
<rect x="195.9" y="254.5" width="2.85" height="153.3" fill="#58b8e0"/>
<rect x="198.7" y="254.5" width="0.95" height="153.3" fill="#d8e8f8"/>
<rect x="199.6" y="254.5" width="2.25" height="153.3" fill="#a0d8f0"/>
<rect x="201.8" y="254.5" width="1.25" height="153.3" fill="#c8ecf8"/>
<rect x="203" y="254.5" width="1.05" height="153.3" fill="#d0f8f8"/>
<rect x="204" y="254.5" width="1.85" height="153.3" fill="#60c8d8"/>
<rect x="205.8" y="254.5" width="1.25" height="153.3" fill="#f8fcd0"/>
<rect x="207" y="254.5" width="1.05" height="153.3" fill="#d0f0c0"/>
<rect x="208" y="254.5" width="1.75" height="153.3" fill="#c8f090"/>
<rect x="12.2" y="254.5" width="197.5" height="1.5" fill="#000" opacity="0.09"/>
<rect x="12.2" y="406.4" width="197.5" height="1.4" fill="#000" opacity="0.07"/>
<rect x="17.05" y="407.8" width="1.1" height="3.6" fill="#222"/>
<text transform="translate(20,414.9) rotate(-90) scale(1,1.5)" font-family='"Liberation Sans", sans-serif' font-size="6" font-weight="bold" text-anchor="end" fill="#222" stroke="#222" stroke-width="0.2">42</text>
<rect x="25.28" y="407.8" width="1.1" height="3.6" fill="#222"/>
<text transform="translate(28.23,414.9) rotate(-90) scale(1,1.5)" font-family='"Liberation Sans", sans-serif' font-size="6" font-weight="bold" text-anchor="end" fill="#222" stroke="#222" stroke-width="0.2">41</text>
<rect x="33.5" y="407.8" width="1.1" height="3.6" fill="#222"/>
<text transform="translate(36.45,414.9) rotate(-90) scale(1,1.5)" font-family='"Liberation Sans", sans-serif' font-size="6" font-weight="bold" text-anchor="end" fill="#222" stroke="#222" stroke-width="0.2">40</text>
<rect x="41.73" y="407.8" width="1.1" height="3.6" fill="#222"/>
<text transform="translate(44.68,414.9) rotate(-90) scale(1,1.5)" font-family='"Liberation Sans", sans-serif' font-size="6" font-weight="bold" text-anchor="end" fill="#222" stroke="#222" stroke-width="0.2">39</text>
<rect x="49.95" y="407.8" width="1.1" height="3.6" fill="#222"/>
<text transform="translate(52.9,414.9) rotate(-90) scale(1,1.5)" font-family='"Liberation Sans", sans-serif' font-size="6" font-weight="bold" text-anchor="end" fill="#222" stroke="#222" stroke-width="0.2">37</text>
<rect x="58.18" y="407.8" width="1.1" height="3.6" fill="#222"/>
<text transform="translate(61.13,414.9) rotate(-90) scale(1,1.5)" font-family='"Liberation Sans", sans-serif' font-size="6" font-weight="bold" text-anchor="end" fill="#222" stroke="#222" stroke-width="0.2">36</text>
<rect x="66.41" y="407.8" width="1.1" height="3.6" fill="#222"/>
<text transform="translate(69.36,414.9) rotate(-90) scale(1,1.5)" font-family='"Liberation Sans", sans-serif' font-size="6" font-weight="bold" text-anchor="end" fill="#222" stroke="#222" stroke-width="0.2">35</text>
<rect x="74.63" y="407.8" width="1.1" height="3.6" fill="#222"/>
<text transform="translate(77.58,414.9) rotate(-90) scale(1,1.5)" font-family='"Liberation Sans", sans-serif' font-size="6" font-weight="bold" text-anchor="end" fill="#222" stroke="#222" stroke-width="0.2">34</text>
<rect x="82.86" y="407.8" width="1.1" height="3.6" fill="#222"/>
<text transform="translate(85.81,414.9) rotate(-90) scale(1,1.5)" font-family='"Liberation Sans", sans-serif' font-size="6" font-weight="bold" text-anchor="end" fill="#222" stroke="#222" stroke-width="0.2">32</text>
<rect x="91.08" y="407.8" width="1.1" height="3.6" fill="#222"/>
<text transform="translate(94.03,414.9) rotate(-90) scale(1,1.5)" font-family='"Liberation Sans", sans-serif' font-size="6" font-weight="bold" text-anchor="end" fill="#222" stroke="#222" stroke-width="0.2">31</text>
<rect x="99.31" y="407.8" width="1.1" height="3.6" fill="#222"/>
<text transform="translate(102.26,414.9) rotate(-90) scale(1,1.5)" font-family='"Liberation Sans", sans-serif' font-size="6" font-weight="bold" text-anchor="end" fill="#222" stroke="#222" stroke-width="0.2">30</text>
<rect x="107.54" y="407.8" width="1.1" height="3.6" fill="#222"/>
<text transform="translate(110.49,414.9) rotate(-90) scale(1,1.5)" font-family='"Liberation Sans", sans-serif' font-size="6" font-weight="bold" text-anchor="end" fill="#222" stroke="#222" stroke-width="0.2">29</text>
<rect x="115.76" y="407.8" width="1.1" height="3.6" fill="#222"/>
<text transform="translate(118.71,414.9) rotate(-90) scale(1,1.5)" font-family='"Liberation Sans", sans-serif' font-size="6" font-weight="bold" text-anchor="end" fill="#222" stroke="#222" stroke-width="0.2">27</text>
<rect x="123.99" y="407.8" width="1.1" height="3.6" fill="#222"/>
<text transform="translate(126.94,414.9) rotate(-90) scale(1,1.5)" font-family='"Liberation Sans", sans-serif' font-size="6" font-weight="bold" text-anchor="end" fill="#222" stroke="#222" stroke-width="0.2">26</text>
<rect x="132.22" y="407.8" width="1.1" height="3.6" fill="#222"/>
<text transform="translate(135.17,414.9) rotate(-90) scale(1,1.5)" font-family='"Liberation Sans", sans-serif' font-size="6" font-weight="bold" text-anchor="end" fill="#222" stroke="#222" stroke-width="0.2">24</text>
<rect x="140.44" y="407.8" width="1.1" height="3.6" fill="#222"/>
<text transform="translate(143.39,414.9) rotate(-90) scale(1,1.5)" font-family='"Liberation Sans", sans-serif' font-size="6" font-weight="bold" text-anchor="end" fill="#222" stroke="#222" stroke-width="0.2">23</text>
<rect x="148.67" y="407.8" width="1.1" height="3.6" fill="#222"/>
<text transform="translate(151.62,414.9) rotate(-90) scale(1,1.5)" font-family='"Liberation Sans", sans-serif' font-size="6" font-weight="bold" text-anchor="end" fill="#222" stroke="#222" stroke-width="0.2">21</text>
<rect x="156.89" y="407.8" width="1.1" height="3.6" fill="#222"/>
<text transform="translate(159.84,414.9) rotate(-90) scale(1,1.5)" font-family='"Liberation Sans", sans-serif' font-size="6" font-weight="bold" text-anchor="end" fill="#222" stroke="#222" stroke-width="0.2">20</text>
<rect x="165.12" y="407.8" width="1.1" height="3.6" fill="#222"/>
<text transform="translate(168.07,414.9) rotate(-90) scale(1,1.5)" font-family='"Liberation Sans", sans-serif' font-size="6" font-weight="bold" text-anchor="end" fill="#222" stroke="#222" stroke-width="0.2">18</text>
<rect x="173.35" y="407.8" width="1.1" height="3.6" fill="#222"/>
<text transform="translate(176.3,414.9) rotate(-90) scale(1,1.5)" font-family='"Liberation Sans", sans-serif' font-size="6" font-weight="bold" text-anchor="end" fill="#222" stroke="#222" stroke-width="0.2">16</text>
<rect x="181.57" y="407.8" width="1.1" height="3.6" fill="#222"/>
<text transform="translate(184.52,414.9) rotate(-90) scale(1,1.5)" font-family='"Liberation Sans", sans-serif' font-size="6" font-weight="bold" text-anchor="end" fill="#222" stroke="#222" stroke-width="0.2">14</text>
<rect x="189.8" y="407.8" width="1.1" height="3.6" fill="#222"/>
<text transform="translate(192.75,414.9) rotate(-90) scale(1,1.5)" font-family='"Liberation Sans", sans-serif' font-size="6" font-weight="bold" text-anchor="end" fill="#222" stroke="#222" stroke-width="0.2">12</text>
<rect x="198.02" y="407.8" width="1.1" height="3.6" fill="#222"/>
<text transform="translate(200.97,414.9) rotate(-90) scale(1,1.5)" font-family='"Liberation Sans", sans-serif' font-size="6" font-weight="bold" text-anchor="end" fill="#222" stroke="#222" stroke-width="0.2">10</text>
<rect x="206.25" y="407.8" width="1.1" height="3.6" fill="#222"/>
<text transform="translate(209.2,414.9) rotate(-90) scale(1,1.5)" font-family='"Liberation Sans", sans-serif' font-size="6" font-weight="bold" text-anchor="end" fill="#222" stroke="#222" stroke-width="0.2">5</text>
<rect x="12" y="422" width="240" height="1" fill="#333"/>
<rect x="222.1" y="255" width="7.5" height="152.8" fill="url(#cb)"/>
<rect x="229.6" y="254.6" width="3.2" height="0.8" fill="#333"/>
<text x="235.6" y="257.9" font-family='"Liberation Sans", sans-serif' font-size="8" fill="#222" stroke="#222" stroke-width="0.12">2.0</text>
<rect x="229.6" y="273.7" width="3.2" height="0.8" fill="#333"/>
<text x="235.6" y="277" font-family='"Liberation Sans", sans-serif' font-size="8" fill="#222" stroke="#222" stroke-width="0.12">1.5</text>
<rect x="229.6" y="292.8" width="3.2" height="0.8" fill="#333"/>
<text x="235.6" y="296.1" font-family='"Liberation Sans", sans-serif' font-size="8" fill="#222" stroke="#222" stroke-width="0.12">1.0</text>
<rect x="229.6" y="311.9" width="3.2" height="0.8" fill="#333"/>
<text x="235.6" y="315.2" font-family='"Liberation Sans", sans-serif' font-size="8" fill="#222" stroke="#222" stroke-width="0.12">0.5</text>
<rect x="229.6" y="331" width="3.2" height="0.8" fill="#333"/>
<text x="235.6" y="334.3" font-family='"Liberation Sans", sans-serif' font-size="8" fill="#222" stroke="#222" stroke-width="0.12">0.0</text>
<rect x="229.6" y="350.1" width="3.2" height="0.8" fill="#333"/>
<text x="235.6" y="353.4" font-family='"Liberation Sans", sans-serif' font-size="8" fill="#222" stroke="#222" stroke-width="0.12">−0.5</text>
<rect x="229.6" y="369.2" width="3.2" height="0.8" fill="#333"/>
<text x="235.6" y="372.5" font-family='"Liberation Sans", sans-serif' font-size="8" fill="#222" stroke="#222" stroke-width="0.12">−1.0</text>
<rect x="229.6" y="388.3" width="3.2" height="0.8" fill="#333"/>
<text x="235.6" y="391.6" font-family='"Liberation Sans", sans-serif' font-size="8" fill="#222" stroke="#222" stroke-width="0.12">−1.5</text>
<rect x="229.6" y="407.4" width="3.2" height="0.8" fill="#333"/>
<text x="235.6" y="410.7" font-family='"Liberation Sans", sans-serif' font-size="8" fill="#222" stroke="#222" stroke-width="0.12">−2.0</text>
<text x="132.5" y="441.3" font-family='"Liberation Serif", serif' font-size="13.6" font-weight="bold" letter-spacing="-0.3" text-anchor="middle" fill="#111">(c)</text>
<rect x="278.6" y="232.4" width="266.8" height="178" fill="#fff" stroke="#e2e2e2" stroke-width="1"/>
<rect x="278.6" y="409.5" width="267.2" height="1.9" fill="#a8a8a8"/>
<rect x="544.8" y="232.4" width="1.2" height="179" fill="#e0e0e0"/>
<rect x="315.51" y="242.3" width="0.9" height="164" fill="#dcdcdc"/>
<rect x="291.2" y="260.07" width="222.8" height="0.9" fill="#dcdcdc"/>
<rect x="340.26" y="242.3" width="0.9" height="164" fill="#dcdcdc"/>
<rect x="291.2" y="278.29" width="222.8" height="0.9" fill="#dcdcdc"/>
<rect x="365.02" y="242.3" width="0.9" height="164" fill="#dcdcdc"/>
<rect x="291.2" y="296.51" width="222.8" height="0.9" fill="#dcdcdc"/>
<rect x="389.77" y="242.3" width="0.9" height="164" fill="#dcdcdc"/>
<rect x="291.2" y="314.73" width="222.8" height="0.9" fill="#dcdcdc"/>
<rect x="414.53" y="242.3" width="0.9" height="164" fill="#dcdcdc"/>
<rect x="291.2" y="332.95" width="222.8" height="0.9" fill="#dcdcdc"/>
<rect x="439.29" y="242.3" width="0.9" height="164" fill="#dcdcdc"/>
<rect x="291.2" y="351.17" width="222.8" height="0.9" fill="#dcdcdc"/>
<rect x="464.04" y="242.3" width="0.9" height="164" fill="#dcdcdc"/>
<rect x="291.2" y="369.39" width="222.8" height="0.9" fill="#dcdcdc"/>
<rect x="488.8" y="242.3" width="0.9" height="164" fill="#dcdcdc"/>
<rect x="291.2" y="387.61" width="222.8" height="0.9" fill="#dcdcdc"/>
<rect x="513.55" y="242.3" width="0.9" height="164" fill="#dcdcdc"/>
<rect x="291.2" y="405.83" width="222.8" height="0.9" fill="#dcdcdc"/>
<rect x="290.4" y="241.6" width="1.8" height="165" fill="#cfcfcf"/>
<rect x="290.4" y="241.6" width="224" height="1.4" fill="#cfcfcf"/>
<text x="291.2" y="239.4" font-family='"Liberation Sans", sans-serif' font-size="5" text-anchor="middle" fill="#555" stroke="#555" stroke-width="0.12">0</text>
<text x="286.8" y="244.1" font-family='"Liberation Sans", sans-serif' font-size="5" text-anchor="end" fill="#555" stroke="#555" stroke-width="0.12">0</text>
<text x="315.96" y="239.4" font-family='"Liberation Sans", sans-serif' font-size="5" text-anchor="middle" fill="#555" stroke="#555" stroke-width="0.12">10</text>
<text x="286.8" y="262.32" font-family='"Liberation Sans", sans-serif' font-size="5" text-anchor="end" fill="#555" stroke="#555" stroke-width="0.12">10</text>
<text x="340.71" y="239.4" font-family='"Liberation Sans", sans-serif' font-size="5" text-anchor="middle" fill="#555" stroke="#555" stroke-width="0.12">20</text>
<text x="286.8" y="280.54" font-family='"Liberation Sans", sans-serif' font-size="5" text-anchor="end" fill="#555" stroke="#555" stroke-width="0.12">20</text>
<text x="365.47" y="239.4" font-family='"Liberation Sans", sans-serif' font-size="5" text-anchor="middle" fill="#555" stroke="#555" stroke-width="0.12">30</text>
<text x="286.8" y="298.76" font-family='"Liberation Sans", sans-serif' font-size="5" text-anchor="end" fill="#555" stroke="#555" stroke-width="0.12">30</text>
<text x="390.22" y="239.4" font-family='"Liberation Sans", sans-serif' font-size="5" text-anchor="middle" fill="#555" stroke="#555" stroke-width="0.12">40</text>
<text x="286.8" y="316.98" font-family='"Liberation Sans", sans-serif' font-size="5" text-anchor="end" fill="#555" stroke="#555" stroke-width="0.12">40</text>
<text x="414.98" y="239.4" font-family='"Liberation Sans", sans-serif' font-size="5" text-anchor="middle" fill="#555" stroke="#555" stroke-width="0.12">50</text>
<text x="286.8" y="335.2" font-family='"Liberation Sans", sans-serif' font-size="5" text-anchor="end" fill="#555" stroke="#555" stroke-width="0.12">50</text>
<text x="439.74" y="239.4" font-family='"Liberation Sans", sans-serif' font-size="5" text-anchor="middle" fill="#555" stroke="#555" stroke-width="0.12">60</text>
<text x="286.8" y="353.42" font-family='"Liberation Sans", sans-serif' font-size="5" text-anchor="end" fill="#555" stroke="#555" stroke-width="0.12">60</text>
<text x="464.49" y="239.4" font-family='"Liberation Sans", sans-serif' font-size="5" text-anchor="middle" fill="#555" stroke="#555" stroke-width="0.12">70</text>
<text x="286.8" y="371.64" font-family='"Liberation Sans", sans-serif' font-size="5" text-anchor="end" fill="#555" stroke="#555" stroke-width="0.12">70</text>
<text x="489.25" y="239.4" font-family='"Liberation Sans", sans-serif' font-size="5" text-anchor="middle" fill="#555" stroke="#555" stroke-width="0.12">80</text>
<text x="286.8" y="389.86" font-family='"Liberation Sans", sans-serif' font-size="5" text-anchor="end" fill="#555" stroke="#555" stroke-width="0.12">80</text>
<text x="514" y="239.4" font-family='"Liberation Sans", sans-serif' font-size="5" text-anchor="middle" fill="#555" stroke="#555" stroke-width="0.12">90</text>
<text x="286.8" y="408.08" font-family='"Liberation Sans", sans-serif' font-size="5" text-anchor="end" fill="#555" stroke="#555" stroke-width="0.12">90</text>
<path d="M296.15 310.89V335.87M298.63 301.78V343.16M301.1 296.31V350.45M303.58 290.84V310.36M303.58 312.71V354.09M306.05 287.2V293.97M306.05 296.31V337.69M306.05 340.04V344.98M306.05 347.33V357.74M308.53 283.56V303.08M308.53 305.42V312.19M308.53 314.53V352.27M308.53 356.44V361.38M311 279.91V357.74M311 360.08V365.02M313.48 278.09V317.65M313.48 320V323.12M313.48 325.46V366.85M315.96 274.45V344.98M315.96 347.33V350.45M315.96 352.79V370.49M318.43 272.62V348.63M318.43 350.97V352.27M318.43 354.61V372.31M320.91 270.8V332.23M320.91 334.57V343.16M320.91 345.5V352.27M320.91 354.61V374.13M323.38 268.98V323.12M323.38 325.46V374.13M325.86 267.16V292.14M325.86 294.49V330.41M325.86 334.57V346.8M325.86 349.15V377.78M328.33 265.34V379.6M330.81 263.51V283.03M330.81 285.38V293.97M330.81 296.31V355.91M330.81 358.26V377.78M330.81 380.12V381.42M333.29 261.69V355.91M333.29 358.26V383.24M335.76 259.87V299.43M335.76 301.78V308.54M335.76 310.89V385.07M338.24 258.05V350.45M338.24 352.79V386.89M340.71 258.05V275.75M340.71 278.09V290.32M340.71 292.67V386.89M343.19 256.23V264.81M343.19 267.16V388.71M345.66 254.4V292.14M345.66 294.49V310.36M345.66 314.53V348.63M345.66 350.97V377.78M345.66 380.12V390.53M348.14 254.4V270.28M348.14 272.62V315.83M348.14 318.17V366.85M348.14 369.19V375.96M348.14 378.3V390.53M350.61 252.58V295.79M350.61 298.13V335.87M350.61 338.22V343.16M350.61 345.5V392.35M353.09 254.4V392.35M355.57 250.76V337.69M355.57 340.04V394.18M358.04 250.76V262.99M358.04 265.34V297.61M358.04 301.78V368.67M358.04 371.01V390.53M358.04 392.88V394.18M360.52 248.94V324.94M360.52 327.28V394.18M362.99 248.94V255.7M362.99 258.05V275.75M362.99 279.91V290.32M362.99 292.67V323.12M362.99 327.28V396M365.47 248.94V257.53M365.47 259.87V368.67M365.47 371.01V396M367.94 247.12V343.16M367.94 345.5V396M370.42 247.12V299.43M370.42 301.78V306.72M370.42 309.06V368.67M370.42 371.01V388.71M370.42 391.05V397.82M372.89 247.12V272.1M372.89 274.45V292.14M372.89 294.49V386.89M372.89 389.23V397.82M375.37 247.12V337.69M375.37 340.04V397.82M377.85 245.29V255.7M377.85 258.05V323.12M377.85 325.46V397.82M380.32 245.29V279.39M380.32 281.73V324.94M380.32 327.28V397.82M382.8 245.29V396M385.27 245.29V303.08M385.27 305.42V399.64M387.75 245.29V308.54M387.75 310.89V330.41M387.75 332.75V346.8M387.75 349.15V399.64M390.22 245.29V270.28M390.22 272.62V344.98M390.22 347.33V399.64M392.7 245.29V284.86M392.7 287.2V352.27M392.7 354.61V377.78M392.7 380.12V399.64M395.18 245.29V275.75M395.18 278.09V281.21M395.18 283.56V363.2M395.18 365.55V399.64M397.65 245.29V261.17M397.65 263.51V334.05M397.65 336.39V396M397.65 398.34V399.64M400.13 245.29V257.53M400.13 259.87V281.21M400.13 283.56V390.53M400.13 392.88V396M400.13 398.34V399.64M402.6 245.29V281.21M402.6 283.56V337.69M402.6 340.04V370.49M402.6 372.83V397.82M405.08 245.29V252.06M405.08 254.4V377.78M405.08 380.12V397.82M407.55 245.29V303.08M407.55 305.42V379.6M407.55 381.94V397.82M410.03 245.29V397.82M412.5 245.29V397.82M414.98 247.12V253.88M414.98 256.23V314.01M414.98 316.35V397.82M417.46 247.12V303.08M417.46 305.42V306.72M417.46 309.06V377.78M417.46 380.12V396M419.93 247.12V396M422.41 247.12V396M424.88 248.94V279.39M424.88 281.73V323.12M424.88 325.46V394.18M427.36 248.94V261.17M427.36 263.51V319.47M427.36 321.82V339.52M427.36 341.86V346.8M427.36 349.15V394.18M429.83 248.94V317.65M429.83 320V341.34M429.83 343.68V365.02M429.83 367.37V368.67M429.83 371.01V394.18M432.31 250.76V268.46M432.31 270.8V343.16M432.31 345.5V392.35M434.78 250.76V255.7M434.78 258.05V277.57M434.78 279.91V301.25M434.78 303.6V350.45M434.78 352.79V379.6M434.78 381.94V392.35M437.26 252.58V292.14M437.26 294.49V375.96M437.26 378.3V381.42M437.26 383.77V390.53M439.74 252.58V297.61M439.74 299.95V334.05M439.74 336.39V341.34M439.74 343.68V390.53M442.21 254.4V261.17M442.21 263.51V324.94M442.21 327.28V388.71M444.69 254.4V257.53M444.69 259.87V295.79M444.69 298.13V304.9M444.69 307.24V310.36M444.69 312.71V319.47M444.69 321.82V386.89M447.16 256.23V386.89M449.64 258.05V381.42M449.64 383.77V385.07M452.11 258.05V357.74M452.11 360.08V383.24M454.59 259.87V372.31M454.59 374.66V383.24M457.07 261.69V284.86M457.07 287.2V381.42M459.54 263.51V288.5M459.54 290.84V337.69M459.54 340.04V379.6M462.02 265.34V270.28M462.02 272.62V323.12M462.02 325.46V377.78M464.49 267.16V290.32M464.49 292.67V297.61M464.49 299.95V375.96M466.97 268.98V374.13M469.44 270.8V359.56M469.44 361.9V370.49M471.92 272.62V299.43M471.92 301.78V321.3M471.92 323.64V332.23M471.92 334.57V341.34M471.92 343.68V368.67M474.39 276.27V328.58M474.39 330.93V366.85M476.87 278.09V343.16M476.87 345.5V363.2M479.35 281.73V355.91M479.35 358.26V359.56M481.82 285.38V301.25M481.82 303.6V357.74M484.3 289.02V352.27M486.77 294.49V348.63M489.25 299.95V310.36M489.25 312.71V315.83M489.25 318.17V328.58M489.25 330.93V343.16M491.72 307.24V334.05" fill="none" stroke="#a0daa0" stroke-width="1.45" stroke-dasharray="1.3 0.522"/>
<g fill="#fb4515">
<ellipse cx="298.63" cy="315.18" rx="1.4" ry="1.2"/>
<ellipse cx="298.63" cy="317" rx="1.4" ry="1.2"/>
<ellipse cx="298.63" cy="318.82" rx="1.4" ry="1.2"/>
<ellipse cx="355.57" cy="320.65" rx="1.4" ry="1.2"/>
<ellipse cx="358.04" cy="333.4" rx="1.4" ry="1.2"/>
<ellipse cx="318.43" cy="337.04" rx="1.4" ry="1.2"/>
<ellipse cx="335.76" cy="342.51" rx="1.4" ry="1.2"/>
<ellipse cx="340.71" cy="340.69" rx="1.4" ry="1.2"/>
<ellipse cx="343.19" cy="342.51" rx="1.4" ry="1.2"/>
<ellipse cx="348.14" cy="342.51" rx="1.4" ry="1.2"/>
<ellipse cx="390.22" cy="338.87" rx="1.4" ry="1.2"/>
<ellipse cx="395.18" cy="337.04" rx="1.4" ry="1.2"/>
<ellipse cx="325.86" cy="364.37" rx="1.4" ry="1.2"/>
<ellipse cx="348.14" cy="371.66" rx="1.4" ry="1.2"/>
<ellipse cx="328.33" cy="380.77" rx="1.4" ry="1.2"/>
<ellipse cx="338.24" cy="386.24" rx="1.4" ry="1.2"/>
<ellipse cx="340.71" cy="386.24" rx="1.4" ry="1.2"/>
<ellipse cx="343.19" cy="388.06" rx="1.4" ry="1.2"/>
<ellipse cx="345.66" cy="389.88" rx="1.4" ry="1.2"/>
<ellipse cx="348.14" cy="389.88" rx="1.4" ry="1.2"/>
<ellipse cx="350.61" cy="386.24" rx="1.4" ry="1.2"/>
<ellipse cx="358.04" cy="393.53" rx="1.4" ry="1.2"/>
<ellipse cx="370.42" cy="386.24" rx="1.4" ry="1.2"/>
<ellipse cx="377.85" cy="395.35" rx="1.4" ry="1.2"/>
<ellipse cx="380.32" cy="397.17" rx="1.4" ry="1.2"/>
<ellipse cx="392.7" cy="395.35" rx="1.4" ry="1.2"/>
<ellipse cx="395.18" cy="395.35" rx="1.4" ry="1.2"/>
<ellipse cx="395.18" cy="386.24" rx="1.4" ry="1.2"/>
<ellipse cx="402.6" cy="397.17" rx="1.4" ry="1.2"/>
<ellipse cx="405.08" cy="397.17" rx="1.4" ry="1.2"/>
<ellipse cx="407.55" cy="393.53" rx="1.4" ry="1.2"/>
<ellipse cx="410.03" cy="389.88" rx="1.4" ry="1.2"/>
<ellipse cx="412.5" cy="397.17" rx="1.4" ry="1.2"/>
<ellipse cx="417.46" cy="397.17" rx="1.4" ry="1.2"/>
<ellipse cx="432.31" cy="378.95" rx="1.4" ry="1.2"/>
<ellipse cx="432.31" cy="386.24" rx="1.4" ry="1.2"/>
<ellipse cx="439.74" cy="366.2" rx="1.4" ry="1.2"/>
<ellipse cx="442.21" cy="371.66" rx="1.4" ry="1.2"/>
<ellipse cx="410.03" cy="318.82" rx="1.4" ry="1.2"/>
<ellipse cx="484.3" cy="320.65" rx="1.4" ry="1.2"/>
<ellipse cx="462.02" cy="329.76" rx="1.4" ry="1.2"/>
<ellipse cx="442.21" cy="342.51" rx="1.4" ry="1.2"/>
<ellipse cx="459.54" cy="340.69" rx="1.4" ry="1.2"/>
<ellipse cx="466.97" cy="340.69" rx="1.4" ry="1.2"/>
<ellipse cx="471.92" cy="338.87" rx="1.4" ry="1.2"/>
<ellipse cx="464.49" cy="346.15" rx="1.4" ry="1.2"/>
<ellipse cx="479.35" cy="349.8" rx="1.4" ry="1.2"/>
<ellipse cx="481.82" cy="349.8" rx="1.4" ry="1.2"/>
<ellipse cx="489.25" cy="346.15" rx="1.4" ry="1.2"/>
<ellipse cx="407.55" cy="355.26" rx="1.4" ry="1.2"/>
<ellipse cx="427.36" cy="357.09" rx="1.4" ry="1.2"/>
<ellipse cx="447.16" cy="357.09" rx="1.4" ry="1.2"/>
<ellipse cx="457.07" cy="360.73" rx="1.4" ry="1.2"/>
<ellipse cx="476.87" cy="358.91" rx="1.4" ry="1.2"/>
<ellipse cx="476.87" cy="364.37" rx="1.4" ry="1.2"/>
<ellipse cx="464.49" cy="364.37" rx="1.4" ry="1.2"/>
<ellipse cx="372.89" cy="276.92" rx="1.4" ry="1.2"/>
</g>
<path d="M388.6,396 L393.4,403.3 L383.8,403.3 Z" fill="#2f72c6" stroke="#1f4f90" stroke-width="0.6"/>
<rect x="511.8" y="325.3" width="1.2" height="1.2" fill="#8fd08f"/>
<text x="514.8" y="327.6" font-family='"Liberation Sans", sans-serif' font-size="4.2" fill="#555">Row</text>
<text x="516.2" y="248.3" font-family='"Liberation Sans", sans-serif' font-size="5" font-weight="bold" fill="#2a2a2a">RUW603L-</text>
<text x="516.2" y="253.8" font-family='"Liberation Sans", sans-serif' font-size="5" font-weight="bold" fill="#2a2a2a">13C2</text>
<text x="410.5" y="441" font-family='"Liberation Serif", serif' font-size="13.6" font-weight="bold" letter-spacing="-0.3" text-anchor="middle" fill="#111">(d)</text>
</svg>
</body></html>
